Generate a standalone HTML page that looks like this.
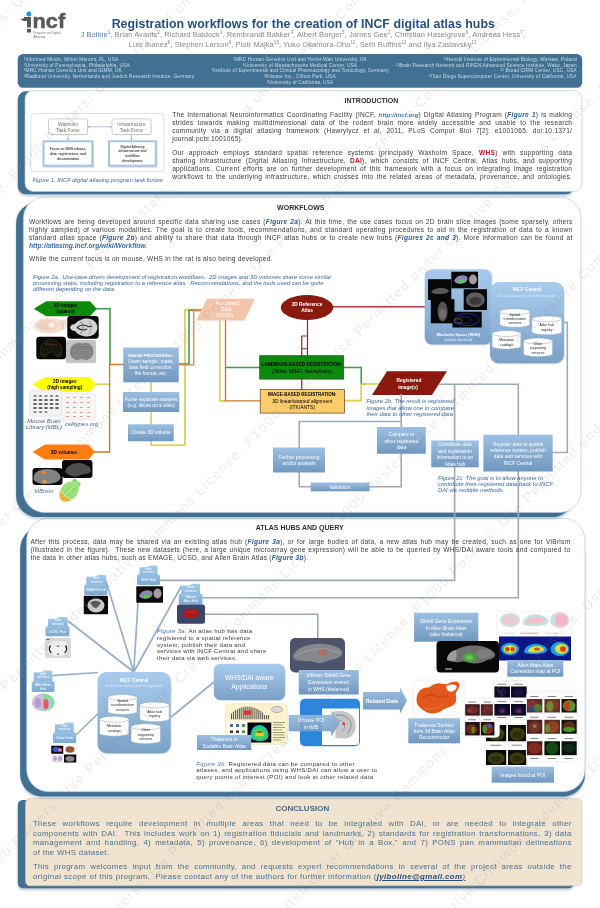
<!DOCTYPE html>
<html lang="en">
<head>
<meta charset="utf-8">
<title>Registration workflows for the creation of INCF digital atlas hubs</title>
<style>
html,body{margin:0;padding:0;background:#fff;}
body{width:600px;height:908px;position:relative;overflow:hidden;font-family:"Liberation Sans",sans-serif;}
#page{position:absolute;left:0;top:0;width:600px;height:908px;will-change:transform;}
#bg{position:absolute;left:0;top:0;width:600px;height:908px;}
.abs{position:absolute;}
.t{position:absolute;white-space:nowrap;}
.title{left:3.3px;width:600px;top:16.8px;text-align:center;font-weight:bold;font-size:12.35px;line-height:15px;color:#24517e;letter-spacing:0.04px;}
.auth{left:2.7px;width:600px;text-align:center;font-size:7.5px;line-height:9px;color:#87898d;letter-spacing:0.07px;}
.auth i{font-style:normal;color:#4b7fae;}
.auth sup{font-size:4.5px;line-height:0;vertical-align:2.6px;}
.aff{font-size:4.8px;line-height:5.62px;color:#d0dce7;white-space:nowrap;letter-spacing:0.15px;}
.aff sup{font-size:3px;line-height:0;vertical-align:1.5px;}
.body{font-size:6.6px;line-height:7.95px;color:#403a3a;letter-spacing:0.26px;}
.ln{display:block;text-align:justify;text-align-last:justify;}
.ln.e{text-align:left;text-align-last:left;}
.body b.k{color:#2b5c91;font-style:italic;}
.body b.u{font-size:6.2px;letter-spacing:0;line-height:0;color:#3f78b8;}
.conc{font-size:7.9px;line-height:9.7px;color:#48708f;letter-spacing:0.3px;}
.conc b.k{color:#2b4f7a;font-style:italic;}
.body b.r{color:#d0121b;}
.h{font-weight:bold;font-size:7px;line-height:8px;color:#352b2b;text-align:center;white-space:nowrap;}
.cap{font-style:italic;font-size:5.85px;line-height:6.1px;color:#3a67a0;}
svg text{font-family:"Liberation Sans",sans-serif;}
</style>
</head>
<body>
<div id="page">
<svg id="bg" width="600" height="908" viewBox="0 0 600 908">
<defs>
<linearGradient id="gb" x1="0" y1="0" x2="0" y2="1"><stop offset="0" stop-color="#9cc0e2"/><stop offset="1" stop-color="#7198bf"/></linearGradient>
<linearGradient id="gp" x1="0" y1="0" x2="0" y2="1"><stop offset="0" stop-color="#b7d2ec"/><stop offset="1" stop-color="#7ea3c8"/></linearGradient>
<linearGradient id="gp2" x1="0" y1="0" x2="0" y2="1"><stop offset="0" stop-color="#a8cced"/><stop offset="1" stop-color="#7ba1c7"/></linearGradient>
<linearGradient id="gh" x1="0" y1="0" x2="0" y2="1"><stop offset="0" stop-color="#93bfe1"/><stop offset="1" stop-color="#7aa9d2"/></linearGradient>
<linearGradient id="gw" x1="0" y1="0" x2="0" y2="1"><stop offset="0" stop-color="#a2c9e6"/><stop offset="1" stop-color="#8ab7da"/></linearGradient>
<filter id="ds" x="-2%" y="-5%" width="104%" height="112%"><feDropShadow dx="0" dy="1.8" stdDeviation="1.1" flood-color="#5f7d9e" flood-opacity="0.42"/></filter>
</defs>
<!-- logo -->
<g fill="#58585a">
<rect x="27" y="17" width="4" height="10.5"/>
<path d="M27 17 L24 17 L24 18.2 L20 19.6 L24 21 L27 21 Z"/>
<rect x="27" y="29" width="4" height="3.5"/>
<text x="32.6" y="27.5" font-size="20" font-weight="bold" textLength="32.6" lengthAdjust="spacingAndGlyphs" stroke="#58585a" stroke-width="0.5">ncf</text>
<text x="33.2" y="33.6" font-size="3.7" textLength="27.5" lengthAdjust="spacingAndGlyphs" fill="#77787a">Program on Digital</text>
<text x="33.2" y="38.4" font-size="3.7" textLength="12" lengthAdjust="spacingAndGlyphs" fill="#77787a">Atlasing</text>
</g>
<circle cx="28.9" cy="14" r="2.5" fill="#1a9be0"/>
<!-- affiliation bar -->
<rect x="17.7" y="54" width="564.5" height="33.8" rx="5.5" fill="#407092"/>
<!-- conclusion panel -->
<rect x="17.800" y="800" width="556" height="88.3" rx="5" fill="#407092" filter="url(#ds)"/>
<rect x="25.500" y="798.5" width="556.500" height="87.3" rx="4.5" fill="#f0e4d0" stroke="#c9c0b0" stroke-width="0.6"/>
<!-- atlas panel -->
<rect x="20.200" y="526.600" width="564.800" height="269.800" rx="22" fill="#407092" filter="url(#ds)"/>
<rect x="26.700" y="518.300" width="558.300" height="273.400" rx="22" fill="#fff" stroke="#b5c9de" stroke-width="0.7"/>
<!-- workflows panel -->
<rect x="16.100" y="202.400" width="557.500" height="314.600" rx="21" fill="#407092" filter="url(#ds)"/>
<rect x="23.400" y="197.200" width="557.600" height="315.200" rx="21" fill="#fff" stroke="#b5c9de" stroke-width="0.7"/>
<!-- intro panel -->
<rect x="17.800" y="91.300" width="556" height="103" rx="8" fill="#407092" filter="url(#ds)"/>
<rect x="25" y="90.700" width="557" height="100.700" rx="8" fill="#fff" stroke="#b5c9de" stroke-width="0.7"/>
<!-- figure 1 -->
<g id="fig1">
<rect x="30.9" y="113.6" width="133" height="58.1" rx="3.5" fill="#fff" stroke="#b9cde4" stroke-width="0.6"/>
<g fill="#fff" stroke="#b9adad" stroke-width="0.6">
<rect x="48.9" y="119.6" width="39" height="15.6" rx="2.2" fill="#e4e4e4" stroke="none"/>
<rect x="112.4" y="119.6" width="39" height="15.6" rx="2.2" fill="#e4e4e4" stroke="none"/>
<rect x="48.5" y="118.9" width="39" height="15.6" rx="2.2"/>
<rect x="112" y="118.9" width="39" height="15.6" rx="2.2"/>
</g>
<g stroke="#5b8cc0" stroke-width="0.5" fill="#5b8cc0">
<line x1="88.5" y1="126.8" x2="111" y2="126.8"/>
<path d="M87.7 126.8l1.6-.9v1.8zM111.8 126.8l-1.6-.9v1.8z" stroke="none"/>
<line x1="68.1" y1="134.7" x2="68.1" y2="139"/>
<line x1="131.4" y1="134.7" x2="131.4" y2="139"/>
<path d="M68.1 140.2l-.9-1.6h1.8zM131.4 140.2l-.9-1.6h1.8z" stroke="none"/>
</g>
<rect x="43.3" y="141.3" width="50.8" height="26.4" fill="#d9d9d9"/>
<rect x="108.8" y="141.3" width="48.8" height="26.4" fill="#d9d9d9"/>
<rect x="43.5" y="141.3" width="48.8" height="24.4" fill="#fff" stroke="#a9c4e3" stroke-width="2"/>
<rect x="109" y="141.3" width="46.8" height="24.4" fill="#fff" stroke="#a9c4e3" stroke-width="2"/>
<g font-size="4.8" fill="#7c6c6c" text-anchor="middle">
<text x="68" y="126">Waxholm</text><text x="68" y="132">Task Force</text>
<text x="131.5" y="126">Infrastructure</text><text x="131.5" y="132">Task Force</text>
</g>
<g font-size="3.3" font-weight="bold" fill="#4a3a3a" text-anchor="middle">
<text x="68" y="149.6">Focus on WHS atlases,</text><text x="68" y="154.6">data&#160; registrations, and</text><text x="68" y="159.6">dissemination</text>
<text x="132.5" y="147.6">Digital Atlasing</text><text x="132.5" y="152.3">infrastructure and</text><text x="132.5" y="157">workflow</text><text x="132.5" y="161.7">development</text>
</g>
</g>
<!-- ===== WORKFLOWS DIAGRAM ===== -->
<g id="wf">
<!-- coloured connectors -->
<g fill="none" stroke-linejoin="miter">
<g stroke="#cfc83f" stroke-width="1.6">
<path d="M185 445.2V309.600H203"/>
<path d="M151.25 381V393M151.25 411V425M151.25 440V445.2H185.8"/>
<path d="M96 384.3H109.5"/>
<path d="M219.800 320V400.9H226"/>
</g>
<g stroke="#e6e070" stroke-width="0.600">
<path d="M185 445.2V309.600H203"/>
<path d="M151.25 381V393M151.25 411V425M151.25 440V445.2H185.8"/>
<path d="M96 384.3H109.5"/>
<path d="M219.800 320V400.9H226"/>
</g>
<g stroke="#46994a" stroke-width="1.6">
<path d="M96 308.75H110V364.5"/>
<path d="M178 364H189V310.200H203"/>
<path d="M225.5 367.5H260"/>
<path d="M343 367.5H361.25V384H366"/>
</g>
<g stroke="#c77b2c" stroke-width="1.35">
<path d="M94 452H109.6V364.5H124"/>
<path d="M178 364.8H193.75V310.700H203" stroke="#d08d4c"/>
<path d="M225.5 320V400.9H261"/>
</g>
<path d="M344 400.6H361.25V384H380" stroke="#cfc83f" stroke-width="1.6"/>
<path d="M344 400.6H361.25V384H380" stroke="#e6e070" stroke-width="0.600"/>
<path d="M307.5 319V356M307.5 336H301.75V390M301.75 348.75H307.5" stroke="#8e2a20" stroke-width="1.2"/>
<path d="M333 306.7H425" stroke="#a63a36" stroke-width="1.5"/>
</g>
<!-- hexagons -->
<path d="M33.75 308.75L46.25 301.25H90L96.75 308.75L90 316.25H46.25Z" fill="#0c8a0c"/>
<path d="M32.5 384.5L45 377H89.5L96.25 384.5L89.5 392H45Z" fill="#ffff00"/>
<path d="M32.5 452L45 444.5H88.5L95 452L88.5 459.5H45Z" fill="#ff7f0e"/>
<g font-size="4.7" font-weight="bold" fill="#000" text-anchor="middle">
<text x="65.5" y="307">2D images</text><text x="65.5" y="313.2">(sparse)</text>
<text x="64.8" y="383.2">2D images</text><text x="64.8" y="389.4">(high sampling)</text>
<text x="64" y="453.5">3D volumes</text>
</g>
<!-- thumbnails: sparse -->
<g>
<path d="M34.500 325c1-5 8-7.500 16-7c5 0 8 1 10 2c3-1 6 0 6.500 2.500c0.500 3-1 5-3 7c-2 2-5 3-8 3c-3 1-7 1.500-11 1c-6-0.500-11-4-10.500-8.500z" fill="#f5e0d4"/>
<path d="M37 325c1-3.500 6-5.500 12-5c4 0 7 1.500 8 4c1 3-2 6-7 6.500c-6 0.500-13-1.500-13-5.500z" fill="#efd0c0"/>
<path d="M49 323c2-1.500 5-1 6 1c0.500 2-1 4-3.500 4c-2 0-3.500-2.500-2.500-5z" fill="#f8ebe3"/>
<path d="M59 321.500c2 2 3 5 2 8.500M62 321c1.500 2 2 5 1 8" stroke="#e2b9a4" stroke-width="0.700" fill="none"/>
<rect x="67.300" y="316" width="31.400" height="22.700" rx="3.200" fill="#070707"/>
<path d="M70 327.500c0.500-2.500 3-3.500 5-3.500c2-3 7-5.500 12-5.500c6 0 10.500 4 10.500 9c0 5-4.500 9-10.500 9c-5 0-10-2.500-12-5.500c-2 0-4.500-1-5-3.500z" fill="#d2d2d2"/>
<path d="M77 327.500c3-2.500 7-3 10-1.500c2 1 3 1 5 0M77 327.500c3 2.500 7 3 10 1.500" stroke="#2a2a2a" stroke-width="1.100" fill="none"/>
<path d="M80 321.500c2 1 3 3 3 6c0 3-1 5-3 6" stroke="#555" stroke-width="0.700" fill="none"/><path d="M89 321c1.500 2 2 4 2 6.500c0 2.500-0.500 4.500-2 6.500" stroke="#777" stroke-width="0.600" fill="none"/>
<rect x="70.500" y="318.300" width="3" height="0.600" fill="#c02020"/>
<rect x="36.300" y="336.700" width="29.700" height="22.600" rx="3.200" fill="#080808"/>
<path d="M40 352c0-8 5-12.500 11-12.500c6 0 11 4.500 11 12.500c0 3-2 5-4 5c-2 0-3-2-4-4c-1-1.500-5-1.500-6 0c-1 2-2 4-4 4c-2 0-4-2-4-5z" fill="#15170e" stroke="#3a4220" stroke-width="0.600"/>
<path d="M45 344.500c2-0.800 4-0.800 6 0c2 0.800 4 0.800 6 0" stroke="#b03828" stroke-width="0.600" fill="none"/>
<path d="M42 353c1 2 2 3 3 3M60 353c-1 2-2 3-3 3" stroke="#7a4020" stroke-width="0.500" fill="none"/>
<rect x="66" y="340" width="30" height="23.300" rx="2.500" fill="#c6c6c6"/>
<path d="M70 352c0-5 3-8.500 8-9c2-0.500 3 0.500 4 0.500c1 0 3-1 5-0.500c4 0.500 6.500 4 6.500 8.500c0 4.500-3 8-7 8.500c-2 0-3-1-4.500-1c-1.500 0-3 1-5 1c-4-0.500-7-3.500-7-8z" fill="#808080"/>
<path d="M72 349c3-2 7-2.500 10-1.500c3-1 6-0.500 9 1.500" stroke="#6a6a6a" stroke-width="0.800" fill="none"/>
<g stroke="#b2b2b2" stroke-width="0.350" opacity="0.700"><path d="M66 343h30M66 345.500h30M66 348h30M66 350.500h30M66 353h30M66 355.500h30M66 358h30M66 360.500h30"/></g>
</g>
<!-- thumbnails: high sampling -->
<g>
<rect x="29.5" y="390" width="31.8" height="26.2" rx="3" fill="#f3f3f3" stroke="#d5d5d5" stroke-width="0.5"/>
<g fill="#5a5a5a">
<ellipse cx="35" cy="396" rx="1.8" ry="0.8"/><ellipse cx="40.5" cy="396" rx="1.8" ry="0.8"/><ellipse cx="46" cy="396" rx="1.8" ry="0.8"/><ellipse cx="51.5" cy="396" rx="1.8" ry="0.8"/><ellipse cx="57" cy="396" rx="1.8" ry="0.8"/>
<ellipse cx="35" cy="400" rx="2" ry="0.9"/><ellipse cx="40.5" cy="400" rx="2" ry="0.9"/><ellipse cx="46" cy="400" rx="2" ry="0.9"/><ellipse cx="51.5" cy="400" rx="2" ry="0.9"/><ellipse cx="57" cy="400" rx="2" ry="0.9"/>
<ellipse cx="35" cy="404" rx="2.1" ry="1"/><ellipse cx="40.5" cy="404" rx="2.1" ry="1"/><ellipse cx="46" cy="404" rx="2.1" ry="1"/><ellipse cx="51.5" cy="404" rx="2.1" ry="1"/><ellipse cx="57" cy="404" rx="2.1" ry="1"/>
<ellipse cx="35" cy="408" rx="2.1" ry="1"/><ellipse cx="40.5" cy="408" rx="2.1" ry="1"/><ellipse cx="46" cy="408" rx="2.1" ry="1"/><ellipse cx="51.5" cy="408" rx="2.1" ry="1"/><ellipse cx="57" cy="408" rx="2" ry="0.9"/>
<ellipse cx="35" cy="412" rx="1.8" ry="0.8"/><ellipse cx="40.5" cy="412" rx="1.8" ry="0.8"/><ellipse cx="46" cy="412" rx="1.6" ry="0.7"/>
</g>
<rect x="62" y="393" width="33.8" height="27" rx="3" fill="#f7f4f4" stroke="#dcdcdc" stroke-width="0.5"/>
<g fill="#e89a9a">
<rect x="66" y="397" width="3" height="1"/><rect x="73" y="397" width="3" height="1"/><rect x="80" y="397" width="3" height="1"/><rect x="87" y="397" width="3" height="1"/>
<rect x="66" y="402" width="3" height="1"/><rect x="73" y="402" width="3" height="1"/><rect x="80" y="402" width="3" height="1"/><rect x="87" y="402" width="3" height="1"/>
<rect x="66" y="407" width="3" height="1"/><rect x="73" y="407" width="3" height="1"/><rect x="80" y="407" width="3" height="1"/><rect x="87" y="407" width="3" height="1"/>
<rect x="66" y="412" width="3" height="1"/><rect x="73" y="412" width="3" height="1"/><rect x="80" y="412" width="3" height="1"/><rect x="87" y="412" width="3" height="1"/>
<rect x="66" y="416" width="3" height="1"/><rect x="73" y="416" width="3" height="1"/><rect x="80" y="416" width="3" height="1"/><rect x="87" y="416" width="3" height="1"/>
</g>
</g>
<g font-size="5.95" font-style="italic" fill="#47698f">
<text x="44" y="422.6" text-anchor="middle">Mouse Brain</text><text x="44" y="428.9" text-anchor="middle">Library (MBL)</text>
<text x="65" y="425.7">celltypes.org</text>
<text x="34.5" y="493" font-size="5.5">ViBrism</text>
</g>
<!-- thumbnails: 3D volumes -->
<g>
<rect x="62" y="460" width="30.5" height="18" rx="3" fill="#0a0a0a"/>
<path d="M65 472c1-6 8-9.500 15-9c6 1 11 4 11 7.500c0 3-5 3.500-9 4c-3 1-5 2.500-8 2c-3-1-5-1-9-4.500z" fill="#4e4e4e"/>
<rect x="32.5" y="468" width="30" height="17" rx="3" fill="#0a0a0a"/>
<path d="M33.500 478c0-6 6-9 14-9c7 0 13 4 13 8.500c0 4-7 6.500-14 6.500c-7 0-13-2-13-6z" fill="#838383"/>
<ellipse cx="43.5" cy="472.3" rx="2" ry="1.5" fill="#ff8a1a"/><ellipse cx="44.5" cy="481.5" rx="2.2" ry="1.3" fill="#ffa52a"/>
<g transform="translate(69.3 491.2) rotate(40)">
<ellipse cx="-2.200" cy="-10.500" rx="2.600" ry="3" fill="#7fd65e" stroke="#d8e8d0" stroke-width="0.500"/><ellipse cx="2.200" cy="-10.500" rx="2.600" ry="3" fill="#7fd65e" stroke="#d8e8d0" stroke-width="0.500"/>
<ellipse cx="0" cy="0" rx="8.300" ry="10.500" fill="#93e070" stroke="#cfe3c6" stroke-width="0.700"/>
<path d="M-7.600 4.500c1.500 5 4.500 7.500 7.600 7.500c3.100 0 6.100-2.500 7.600-7.500c-4.500 2.200-10.700 2.200-15.200 0z" fill="#e2b634" stroke="#f0e6b8" stroke-width="0.500"/>
<path d="M0-10v14.500M-7.600 4.500c4.500 2.200 10.700 2.200 15.200 0" stroke="#e3f2da" stroke-width="0.600" fill="none"/>
<path d="M-4-6c-2 3-2 7 0 10M4-6c2 3 2 7 0 10" stroke="#c2e8b0" stroke-width="0.500" fill="none"/>
</g>
</g>
<!-- process boxes -->
<g fill="url(#gb)">
<rect x="123.25" y="347.5" width="55.5" height="34.8"/>
<rect x="123" y="392" width="56.25" height="20"/>
<rect x="128" y="424.25" width="45.75" height="17"/>
<rect x="273" y="447.5" width="52" height="25"/>
<rect x="310.75" y="482.5" width="58.75" height="8.8"/>
</g>
<!-- processed data -->
<path d="M207 298.75H255L244.5 320.5H196.25Z" fill="#f3c5aa"/>
<!-- 3D reference atlas -->
<ellipse cx="307" cy="307.5" rx="26.2" ry="12.4" fill="#8b1a0e"/>
<!-- registration boxes -->
<rect x="259.7" y="355.7" width="84" height="23.4" fill="#0c8a0c" stroke="#1f4a1f" stroke-width="0.7"/>
<rect x="260.2" y="389.5" width="84.2" height="23.6" fill="#fbcb6c" stroke="#5a4020" stroke-width="0.7"/>
<!-- registered images -->
<path d="M387 371.25H447L432 395H372Z" fill="#8b1a0e"/>
<g font-size="4.9" fill="#fff" text-anchor="middle">
<text x="151" y="357" font-weight="bold" font-size="4.3">IMAGE PROCESSING:</text><text x="151" y="363.1">Down sample, mask,</text><text x="151" y="369.2">bias field correction,</text><text x="151" y="375.3">file format, etc.</text>
<text x="151.2" y="400.7">Parse separate samples</text><text x="151.2" y="407">(e.g. slices on a slide)</text>
<text x="151" y="434.4">Create 3D volume</text>
<text x="299" y="459">Further processing</text><text x="299" y="465.3">and/or analysis</text>
<text x="340" y="488.5">Validation</text>
<text x="227.5" y="304.5">Processed</text><text x="226" y="310.9">Data</text><text x="224.500" y="317.2">(2D/3D)</text>
<g font-weight="bold" font-size="4.8">
<text x="307" y="305.8">3D Reference</text><text x="307" y="312.4">Atlas</text>
<text x="409" y="382.2">Registered</text><text x="408" y="388.6">image(s)</text>
</g>
</g>
<g font-size="4.95" fill="#000" text-anchor="middle">
<text x="301.7" y="366.4" font-weight="bold" font-size="4.55">LANDMARK-BASED REGISTRATION:</text><text x="301.7" y="372.8">(Jibber, MBAT, NeuroMaps)</text>
<text x="302.3" y="396.2" font-weight="bold" font-size="4.5">IMAGE-BASED REGISTRATION:</text><text x="302.3" y="402.7">3D linear/warped alignment</text><text x="302.3" y="409.2">(ITK/ANTS)</text>
</g>
</g>
<!-- ===== WORKFLOWS right side ===== -->
<g id="wf2">
<!-- Waxholm space box -->
<rect x="425.5" y="270.2" width="67" height="75.300" rx="7" fill="#c8d4e0" opacity="0.7"/>
<rect x="424.7" y="269.2" width="67" height="75.300" rx="7" fill="url(#gp2)"/>
<g fill="#070707">
<rect x="451.3" y="271.7" width="26.7" height="16.6"/>
<rect x="428" y="279.2" width="23.3" height="20.8"/>
<rect x="463.7" y="289.2" width="23.3" height="20.8"/>
<rect x="430.8" y="299.2" width="23.7" height="24.1"/>
<rect x="452.5" y="311.7" width="29.2" height="15.8"/>
</g>
<path d="M431 292c2-3 6-4 10-4c4 0 7 1 8 3c-1 2-5 3-9 3c-4 0-7 0-9-2z" fill="#5a5a5a"/>
<path d="M454 281c2-5 8-7 12-5c2 1 2 4 0 6c-3 2-9 3-12-1z" fill="#8c86b4"/><path d="M458 282c2-3 6-3 7-1c0 2-5 4-7 1z" fill="#58c858"/><ellipse cx="473" cy="279.500" rx="4" ry="5" fill="#a59aa0"/>
<ellipse cx="475.3" cy="299.8" rx="9.500" ry="7.500" fill="#5c5c5c"/><ellipse cx="475.3" cy="301" rx="6" ry="4" fill="#3a3a3a"/>
<ellipse cx="442.600" cy="311.500" rx="5" ry="10" fill="#555"/><ellipse cx="442.600" cy="314" rx="3.500" ry="5" fill="#6e6e6e"/>
<ellipse cx="467" cy="319.600" rx="12" ry="6" fill="none" stroke="#2a2ad0" stroke-width="0.8"/><ellipse cx="464" cy="320" rx="7" ry="3.500" fill="none" stroke="#3a3ae0" stroke-width="0.5"/><ellipse cx="458" cy="321" rx="4" ry="2.500" fill="none" stroke="#9a9a20" stroke-width="0.5"/>
<text x="458.3" y="336.200" font-size="4" font-weight="bold" fill="#fff" text-anchor="middle">Waxholm Space (WHS)</text>
<text x="458.3" y="340.9" font-size="3.6" fill="#e3edf7" text-anchor="middle">(spatial standard)</text>
<!-- INCF Central box -->
<rect x="490.700" y="283.100" width="74" height="81.200" rx="9" fill="#c8d4e0" opacity="0.7"/>
<rect x="489.900" y="282.100" width="74.100" height="81.200" rx="9" fill="url(#gp2)"/>
<text x="527" y="290.900" font-size="4.650" font-weight="bold" fill="#fff" text-anchor="middle">INCF Central</text>
<text x="527" y="296.500" font-size="4.150" fill="#dfeaf6" text-anchor="middle">Data Discovery and Integration</text>
<g fill="#fff" stroke="#8ea3b9" stroke-width="0.5">
<path d="M499.800 311.700v12.600a15 3 0 0 0 30 0v-12.600z"/><ellipse cx="514.800" cy="311.700" rx="15" ry="3"/>
<path d="M531.800 318.900v12.900a15 3 0 0 0 30 0v-12.900z"/><ellipse cx="546.800" cy="318.900" rx="15" ry="3"/>
<path d="M492.100 333.500v12.700a14.400 3 0 0 0 28.800 0v-12.700z"/><ellipse cx="506.500" cy="333.500" rx="14.400" ry="3"/>
<path d="M523.400 341v12.700a14.600 3 0 0 0 29.200 0v-12.700z"/><ellipse cx="538" cy="341" rx="14.600" ry="3"/>
</g>
<g font-size="3.5" fill="#1f1f1f" text-anchor="middle">
<text x="514.800" y="315.600">Spatial</text><text x="514.800" y="320">transformation</text><text x="514.800" y="324.400">services</text>
<text x="546.800" y="326.300">Atlas hub</text><text x="546.800" y="330.900">registry</text>
<text x="506.500" y="340.900">Metadata</text><text x="506.500" y="345.500">catalogs</text>
<text x="538" y="344.700">Other</text><text x="538" y="349.200">supporting</text><text x="538" y="353.700">services</text>
</g>
<!-- grey-blue connectors -->
<g fill="none" stroke="#9aa9bc" stroke-width="1.6">
<path d="M439 384.250H518.300V597.800H202"/>
<path d="M454.600 384.250V580.400H160"/>
<path d="M401.250 394V486.700H369M401.250 421.500H299.250V448M299.250 472V486.700H311"/>
<path d="M564 322.500H567.300V452.500H552"/>
<path d="M205 614.200H317.800V638"/>
</g>
<g fill="url(#gb)">
<rect x="377" y="427" width="48.750" height="26.750"/>
<rect x="431.200" y="440.500" width="47.500" height="26.800"/>
<rect x="483.400" y="434.700" width="69.300" height="36.800"/>
</g>
<g font-size="4.9" fill="#fff" text-anchor="middle">
<text x="401.400" y="436.100">Compare to</text><text x="401.400" y="442.600">other registered</text><text x="401.400" y="449.100">data</text>
<text x="455" y="446">Contribute data</text><text x="455" y="452.500">and registration</text><text x="455" y="459">information to an</text><text x="455" y="465.500">Atlas hub</text>
<text x="518" y="445.500">Register data to spatial</text><text x="518" y="452">reference system, publish</text><text x="518" y="458.400">data and services with</text><text x="518" y="464.800">INCF Central</text>
</g>
</g>
<!-- ===== ATLAS HUBS DIAGRAM ===== -->
<g id="atlas">
<g fill="none" stroke="#98afc9" stroke-width="1.7">
<path d="M133.750 672L106 581"/>
<path d="M133.750 672L138 602"/>
<path d="M133.750 672L68 621"/>
<path d="M133.750 672L181.500 586"/>
<path d="M98 672.500L52 675.700"/>
<path d="M98 713.500L76 735"/>
<path d="M170.500 717.500L214 682"/>
</g>
<rect x="98.300" y="673" width="73.250" height="81.250" rx="9" fill="#c8d4e0" opacity="0.7"/>
<rect x="97.500" y="672" width="73.250" height="81.250" rx="9" fill="url(#gp2)"/>
<text x="134" y="681.600" font-size="4.650" font-weight="bold" fill="#fff" text-anchor="middle">INCF Central</text>
<text x="134" y="687.100" font-size="4.150" fill="#dfeaf6" text-anchor="middle">Data Discovery and Integration</text>
<g fill="#fff" stroke="#8ea3b9" stroke-width="0.5">
<path d="M108 697.500v14a14.500 3 0 0 0 29 0v-14z"/><ellipse cx="122.500" cy="697.500" rx="14.500" ry="3"/>
<path d="M139.750 705v13.750a14.750 3 0 0 0 29.500 0v-13.750z"/><ellipse cx="154.500" cy="705" rx="14.750" ry="3"/>
<path d="M99.650 719.250v14a14.600 3 0 0 0 29.200 0v-14z"/><ellipse cx="114.250" cy="719.250" rx="14.600" ry="3"/>
<path d="M131 726.750v14a14.750 3 0 0 0 29.500 0v-14z"/><ellipse cx="145.750" cy="726.750" rx="14.750" ry="3"/>
</g>
<g font-size="3.5" fill="#1f1f1f" text-anchor="middle">
<text x="122.500" y="702">Spatial</text><text x="122.500" y="706.400">transformation</text><text x="122.500" y="710.800">services</text>
<text x="154.500" y="712.700">Atlas hub</text><text x="154.500" y="717.300">registry</text>
<text x="114.250" y="727.200">Metadata</text><text x="114.250" y="731.800">catalogs</text>
<text x="145.750" y="731">Other</text><text x="145.750" y="735.500">supporting</text><text x="145.750" y="740">services</text>
</g>
<path d="M87.45 576.70H94.65q1.2 0 1.8-0.85t1.8-0.85H105.05q1.2 0 1.2 1.2V585.60q-5.00-1.6-10.00 0t-10.00 0V577.90q0-1.2 1.2-1.2z" fill="url(#gw)"/>
<rect x="84.25" y="584.5" width="23.25" height="10.5" rx="1.5" fill="url(#gh)"/>
<g font-size="3.3" fill="#fff" text-anchor="middle"><text x="96.25" y="579.30">web</text><text x="96.25" y="582.80">services</text></g>
<text x="95.88" y="591.25" font-size="3.4" fill="#fff" text-anchor="middle">EMAGE Hub</text>
<path d="M140.70 567.20H147.06q1.2 0 1.8-0.85t1.8-0.85H156.30q1.2 0 1.2 1.2V575.60q-4.50-1.6-9.00 0t-9.00 0V568.40q0-1.2 1.2-1.2z" fill="url(#gw)"/>
<rect x="137" y="574.5" width="23" height="10.5" rx="1.5" fill="url(#gh)"/>
<g font-size="3.3" fill="#fff" text-anchor="middle"><text x="148.50" y="569.80">web</text><text x="148.50" y="573.30">services</text></g>
<text x="148.50" y="581.25" font-size="3.4" fill="#fff" text-anchor="middle">WHS Hub</text>
<path d="M182.45 585.45H189.12q1.2 0 1.8-0.85t1.8-0.85H198.80q1.2 0 1.2 1.2V594.85q-4.69-1.6-9.38 0t-9.38 0V586.65q0-1.2 1.2-1.2z" fill="url(#gw)"/>
<rect x="178.75" y="593.75" width="23.75" height="10.75" rx="1.5" fill="url(#gh)"/>
<g font-size="3.3" fill="#fff" text-anchor="middle"><text x="190.62" y="588.05">web</text><text x="190.62" y="591.55">services</text></g>
<g font-size="3.3" fill="#fff" text-anchor="middle"><text x="190.62" y="598.05">ViBrism</text><text x="190.62" y="602.05">Atlas Hub</text></g>
<path d="M49.20 618.70H56.19q1.2 0 1.8-0.85t1.8-0.85H66.30q1.2 0 1.2 1.2V627.35q-4.88-1.6-9.75 0t-9.75 0V619.90q0-1.2 1.2-1.2z" fill="url(#gw)"/>
<rect x="45.5" y="626.25" width="24" height="10" rx="1.5" fill="url(#gh)"/>
<g font-size="3.3" fill="#fff" text-anchor="middle"><text x="57.75" y="621.30">web</text><text x="57.75" y="624.80">services</text></g>
<text x="57.50" y="632.75" font-size="3.4" fill="#fff" text-anchor="middle">UCSD Hub</text>
<path d="M34.95 672.20H41.52q1.2 0 1.8-0.85t1.8-0.85H51.05q1.2 0 1.2 1.2V682.10q-4.62-1.6-9.25 0t-9.25 0V673.40q0-1.2 1.2-1.2z" fill="url(#gw)"/>
<rect x="31.75" y="681.25" width="22.75" height="10.75" rx="1.5" fill="url(#gh)"/>
<g font-size="3.3" fill="#fff" text-anchor="middle"><text x="43.00" y="674.80">web</text><text x="43.00" y="678.30">services</text></g>
<g font-size="3.3" fill="#fff" text-anchor="middle"><text x="43.12" y="685.55">Allen Brain</text><text x="43.12" y="689.55">Hub</text></g>
<path d="M56.20 724.20H62.88q1.2 0 1.8-0.85t1.8-0.85H72.55q1.2 0 1.2 1.2V733.60q-4.69-1.6-9.38 0t-9.38 0V725.40q0-1.2 1.2-1.2z" fill="url(#gw)"/>
<rect x="53" y="732.5" width="23.25" height="10.5" rx="1.5" fill="url(#gh)"/>
<g font-size="3.3" fill="#fff" text-anchor="middle"><text x="64.38" y="726.80">web</text><text x="64.38" y="730.30">services</text></g>
<text x="64.62" y="739.25" font-size="3.4" fill="#fff" text-anchor="middle">Other Hubs</text>
<rect x="83.750" y="595.750" width="24.250" height="18.500" rx="1" fill="#0a0a0a"/>
<ellipse cx="96" cy="605.500" rx="8.500" ry="7" fill="#c9c9c9"/><path d="M90 603c3-3 8-3 11 0c-2 2-3 5-5 5c-3 0-4-3-6-5z" fill="#5a5a5a"/>
<rect x="136.250" y="586.250" width="26.750" height="16.500" rx="1" fill="#0a0a0a"/>
<path d="M139 596c2-5 8-7 12-5c2 1 2 4 0 6c-3 2-9 3-12-1z" fill="#8c86b4"/><path d="M143 597c2-3 6-3 7-1c0 2-5 4-7 1z" fill="#58c858"/><ellipse cx="157.500" cy="593.500" rx="4" ry="5" fill="#a59aa0"/>
<rect x="177" y="604.500" width="28" height="19.250" rx="2.500" fill="#3b4568"/>
<path d="M183 614c1-4 6-6 10-5c3 0 6 2 6 4c0 3-4 5-8 5c-4 0-8-1-8-4z" fill="#b01818"/><path d="M186 613c2-2 6-2 9 0" stroke="#e04040" stroke-width="0.600" fill="none"/>
<rect x="45" y="638" width="26" height="20" rx="1" fill="#dadada"/>
<path d="M47.500 649c0-5 3.500-8.500 7.500-8.500c1.500 0 2.300 0.800 3 0.800c0.700 0 1.500-0.800 3-0.800c4 0 7.500 3.500 7.500 8.500c0 4.500-4 7.500-10.500 7.500c-6.500 0-10.500-3-10.500-7.500z" fill="#f1f1f1" stroke="#cfcfcf" stroke-width="0.400"/>
<path d="M50.500 645.500c-1.500 2-1.500 5 0.800 7.500" stroke="#1a1a1a" stroke-width="1.300" fill="none"/><path d="M65.500 645.500c1.500 2 1.500 5-0.800 7.500" stroke="#1a1a1a" stroke-width="1.300" fill="none"/>
<ellipse cx="58" cy="646.300" rx="0.900" ry="0.700" fill="#222"/><ellipse cx="58" cy="654.300" rx="0.800" ry="0.800" fill="#222"/>
<path d="M53 647c1.500-2 3.500-2.500 5-1c1.500-1.500 3.500-1 5 1" stroke="#c4c4c4" stroke-width="0.500" fill="none"/>
<rect x="46.500" y="639.200" width="3" height="0.700" fill="#333"/>
<path d="M32 703c0-6 5-9.500 11-9.500v17.500c-6 0-11-3-11-8z" fill="#cdbcdd"/><path d="M43 693.500c6 0 11.500 3.500 11.500 9.500c0 5-5.500 8-11.500 8z" fill="#7fe08c"/><ellipse cx="49.500" cy="703" rx="2" ry="5.500" fill="#a9c8ee"/><ellipse cx="46" cy="704" rx="2.500" ry="5" fill="#f05656"/><ellipse cx="38" cy="703" rx="3" ry="5" fill="#b39ccc"/>
<rect x="51.250" y="745.750" width="12" height="8" fill="#0a0a0a"/><ellipse cx="56" cy="749.500" rx="3.500" ry="2.500" fill="#3a5ad0"/><ellipse cx="60" cy="750" rx="2" ry="2" fill="#e070a0"/>
<ellipse cx="70" cy="749.500" rx="4.500" ry="3.300" fill="#a0522d"/>
<rect x="51.250" y="754.500" width="12" height="8" fill="#e9e4ee"/><ellipse cx="55" cy="758.500" rx="2" ry="2.500" fill="#b79fd0"/><ellipse cx="60" cy="758.500" rx="2" ry="2.500" fill="#b79fd0"/>
<rect x="64" y="754.500" width="12.250" height="8" fill="#0a0a0a"/><ellipse cx="70" cy="758.800" rx="4.500" ry="2.800" fill="#8a8a8a"/>
<rect x="214.500" y="664.750" width="71.250" height="36.250" rx="6.500" fill="#c8d4e0" opacity="0.7"/>
<rect x="213.750" y="663.750" width="71.250" height="36.250" rx="6.500" fill="url(#gp2)"/>
<g font-size="6.700" fill="#fff" text-anchor="middle"><text x="249.400" y="680">WHS/DAI aware</text><text x="249.400" y="689.300">Applications</text></g>
<rect x="225.500" y="703.750" width="62" height="40.750" rx="4" fill="#faf3cd" stroke="#e6e0c4" stroke-width="0.500"/>
<g stroke="#4b4242" stroke-width="0.95"><path d="M231.5 713.5V719.3M233.4 711.7V719.3M235.4 710.3V719.3M237.3 709.2V719.3M239.3 708.3V719.3M241.2 707.6V719.3M243.2 707.1V719.3M245.2 706.7V719.3M247.1 706.6V719.3M249.1 706.7V719.3M251.0 706.9V719.3M252.9 707.4V719.3M254.9 708.0V719.3M256.9 708.8V719.3M258.8 709.9V719.3M260.8 711.1V719.3M262.7 712.7V719.3M264.6 715.1V719.3M266.6 715.1V719.3M268.6 715.1V719.3"/></g>
<rect x="243.800" y="710.500" width="7.500" height="4.200" fill="#e03030"/>
<ellipse cx="277" cy="709.500" rx="5.500" ry="3" fill="#ddd" stroke="#777" stroke-width="0.500"/>
<rect x="228" y="721" width="19" height="21" fill="#fdfdfd"/>
<g fill="#4a6a9a"><rect x="230" y="724" width="3" height="3"/><rect x="236" y="724" width="3" height="3"/><rect x="242" y="724" width="3" height="3" fill="#3aa03a"/><rect x="230" y="730.500" width="3" height="2.500" fill="#333"/><rect x="236" y="730.500" width="3" height="2.500" fill="#333"/><rect x="242" y="730.500" width="3" height="2.500" fill="#3aa03a"/></g>
<rect x="247.500" y="722.500" width="23.750" height="20" fill="#050505"/>
<path d="M250.500 736c0-7 4-11 9-11c5 0 9 4 9 11c0 3-4 5-9 5c-5 0-9-2-9-5z" fill="#20c0b0"/><path d="M253 735c0-4 3-7 6.500-7c3.500 0 6.500 3 6.500 7c0 2-3 4-6.500 4c-3.500 0-6.500-2-6.500-4z" fill="#50d040"/><rect x="255.500" y="733" width="8" height="3" fill="#e0d030"/><rect x="257.500" y="731" width="4" height="2" fill="#d04030"/>
<g fill="#8a8468"><rect x="273" y="722" width="12" height="0.800"/><rect x="273" y="724.500" width="10" height="0.800"/><rect x="273" y="727" width="12" height="0.800"/><rect x="273" y="729.500" width="9" height="0.800"/><rect x="273" y="732" width="12" height="0.800"/><rect x="273" y="734.500" width="11" height="0.800"/><rect x="273" y="737" width="12" height="0.800"/><rect x="273" y="739.500" width="8" height="0.800"/></g>
<rect x="197" y="735" width="54.250" height="15" fill="url(#gb)"/>
<g font-size="4.900" fill="#fff" text-anchor="middle"><text x="224.100" y="741.200">Thalamus in</text><text x="224.100" y="747.500">Scalable Brain Atlas</text></g>
<rect x="290" y="638" width="55" height="34.500" rx="5" fill="#4d536b"/>
<path d="M293 657c1-7 10-12 22-13c12-1 24 2 27 7c2 4-3 8-12 9c-4 1-6 3-10 3c-5 0-7-2-13-2c-8 0-14-1-14-4z" fill="#85878c"/>
<path d="M296 656c6-5 18-8 30-7c6 1 11 3 14 5" stroke="#a5a7ab" stroke-width="0.800" fill="none"/>
<ellipse cx="323" cy="652.500" rx="4.500" ry="3.500" fill="#b06a5a" opacity="0.850"/>
<rect x="298.750" y="670" width="60" height="24.500" fill="url(#gb)"/>
<g font-size="4.900" fill="#fff" text-anchor="middle"><text x="328.700" y="677.300">ViBrism Slitrk6 Gene</text><text x="328.700" y="684">Expression viewed</text><text x="328.700" y="690.600">in WHS (thalamus)</text></g>
<rect x="300" y="698.750" width="60" height="47.500" rx="5" fill="#2b86dc"/>
<path d="M322 708.500H359V741.500q0 3.500-3.500 3.500H322Z" fill="#fff"/>
<path d="M333 712c8-3 18 0 21.500 7c2.500 6 1 14-3.500 17.500c-4 2.500-10 2.500-16 1c1-5 1-9-1-13c-1.500-4-2-8-1-12.500z" fill="#c6c6c6"/>
<path d="M336 715.500c6-1.500 12 1 14.500 6c1.500 4 0 9-3.500 12" stroke="#7a7a7a" stroke-width="0.800" fill="none"/><path d="M338 720c3 0 6 2 6.500 5c0.500 2-0.500 5-2.500 6.500" stroke="#8a8a8a" stroke-width="0.700" fill="none"/>
<circle cx="343.750" cy="723.750" r="1.300" fill="#e02020"/>
<path d="M288.750 715H331.250V710L340 723.100L331.250 736.250V731.250H288.750Z" fill="url(#gb)" opacity="0.930"/>
<g font-size="4.900" fill="#fff" text-anchor="middle"><text x="311" y="722.300">Choose POI</text><text x="311" y="728.600">in WIB</text></g>
<path d="M363 692H400V687.500L407 700.600L400 713.750V709.500H363Z" fill="url(#gb)"/>
<text x="381.800" y="702.800" font-size="5.300" font-weight="bold" fill="#fff" text-anchor="middle">Related Data</text>
<rect x="414" y="612.700" width="64.300" height="29" fill="url(#gb)"/>
<g font-size="4.900" fill="#fff" text-anchor="middle"><text x="446" y="623.200">Slitrk6 Gene Expression</text><text x="446" y="629.600">In Allen Brain Atlas</text><text x="446" y="636">(also thalamus)</text></g>
<path d="M496.500 636.700V616.500q0-5 5-5H566.500q5 0 5 5V636.700Z" fill="#fff" stroke="#e3e3e3" stroke-width="0.400"/>
<ellipse cx="510" cy="620" rx="10" ry="7" fill="#c4e2de"/><ellipse cx="510" cy="620.500" rx="7.500" ry="5" fill="#f3c6ce"/><ellipse cx="510" cy="619" rx="3" ry="2" fill="#c9d4ee"/>
<path d="M522.500 623c1-6 9-9.500 16-8.500c5 1 10 3.500 10 7c0 3-6 4.500-13 4.500c-6 0-13 0-13-3z" fill="#c4e2de"/><path d="M526 622c2-4 8-5.500 13-5c4 1 6 2.500 6 4c0 2-5 3-10 3c-5 0-9 0-9-2z" fill="#f3c0ca"/>
<ellipse cx="559.600" cy="620" rx="9.500" ry="8" fill="#e6cfe6"/><ellipse cx="561" cy="620" rx="6.500" ry="5.500" fill="#f3b4c6"/><ellipse cx="553" cy="620" rx="2.500" ry="5" fill="#c4e2de"/>
<rect x="520" y="632.800" width="18" height="0.700" fill="#e07070"/><rect x="505" y="632.800" width="10" height="0.600" fill="#bbb"/><rect x="545" y="632.800" width="14" height="0.600" fill="#bbb"/>
<rect x="499" y="636.500" width="72" height="24" fill="#0b1785"/>
<ellipse cx="510" cy="649" rx="9" ry="6.200" fill="#2498e0"/><ellipse cx="510" cy="649.300" rx="6.500" ry="4.200" fill="#d8e040"/><ellipse cx="507.300" cy="649.300" rx="2.200" ry="2.400" fill="#e04020"/><ellipse cx="512.700" cy="649.300" rx="2.200" ry="2.400" fill="#e04020"/>
<path d="M524 651.500c1-5.500 8-8.500 14.500-7.500c4.500 1 8.500 3 8.500 6c0 3-5.500 4-12 4c-5.500 0-11 0-11-2.500z" fill="#2498e0"/><path d="M528 650.500c1.500-3.500 6-5 10.500-4.500c3 0.500 5.500 2 5.500 3.500c0 2-4 3-8.500 3c-4 0-7.500 0-7.500-2z" fill="#d8e040"/><ellipse cx="537" cy="649" rx="3" ry="1.600" fill="#e05020"/>
<ellipse cx="560" cy="649" rx="9.500" ry="7.200" fill="#2498e0"/><ellipse cx="561.500" cy="649" rx="6.500" ry="5" fill="#d8e040"/><ellipse cx="563" cy="649" rx="3" ry="2.800" fill="#e04020"/>
<rect x="436.500" y="641" width="62.500" height="31.600" rx="4" fill="#080808"/>
<path d="M447 660c0-5 4-9 9-10c4-3 12-5 20-4.500c9 0.500 17 4 19 8.500c1 3-3 5.500-8 6c-3 2-7 3.500-12 3.500c-5 0-7-2-12-2c-5 1-11 1-14-1z" fill="#6e6e6e"/>
<path d="M447 660c0-5 4-9 9-10c1 3 1 8-1 11c-3 0-6 0-8-1z" fill="#9c9c9c"/>
<ellipse cx="484" cy="654" rx="8" ry="5" fill="#7c7c7c"/>
<ellipse cx="469.600" cy="657.500" rx="7" ry="5" fill="#4aa83a" opacity="0.800"/><ellipse cx="469.600" cy="657.500" rx="3.500" ry="2.500" fill="#6ad050" opacity="0.800"/>
<rect x="445" y="668.500" width="7" height="1" fill="#ddd"/>
<rect x="507.300" y="660" width="56" height="16.700" fill="url(#gb)"/>
<g font-size="4.900" fill="#fff" text-anchor="middle"><text x="535.300" y="666.600">Allen Brain Atlas</text><text x="535.300" y="673.200">Correlation map at POI</text></g>
<rect x="413.300" y="680" width="51.700" height="38.300" rx="5" fill="#fff" stroke="#e0e0e0" stroke-width="0.500"/>
<path d="M416.500 700c0-8 5-12.500 11-12.500c3 0 4-2.500 7.500-3.500c5.500-2 8.500 1 12.500 0c4-2 9.500-4 11.500-0.500c1.500 3-1.500 6-3 9c-1 3 1.500 5.500-0.500 10c-2 4.500-9 4.500-13.500 8c-4.500 3-11 4.500-16.500 1c-5.500-3-9-6.500-9-11.500z" fill="#e2571c"/>
<path d="M447 685.500c3-1.500 8-1.500 9.500 0.500c1 2-1.500 4.500-4.500 5.500c-2.500 0.500-4-0.500-5-2c-1-1.500-1-3 0-4z" fill="#fff"/>
<path d="M422 698c4-3 10-4 14-2c4 2 9 1 12-1.500" stroke="#b83d10" stroke-width="0.900" fill="none"/><path d="M424 708c5 2 13 1 19-3.500" stroke="#f07a3a" stroke-width="0.900" fill="none"/><path d="M430 690c2 2 3 4 2.500 7" stroke="#c8481a" stroke-width="0.800" fill="none"/>
<rect x="408.300" y="718.300" width="51.700" height="25" fill="url(#gb)"/>
<g font-size="4.900" fill="#fff" text-anchor="middle"><text x="434.200" y="726.600">Thalamus Surface</text><text x="434.200" y="733">from 3d Brain Atlas</text><text x="434.200" y="739.400">Reconstructor</text></g>
</g>
<!-- image grids -->
<g id="grids">
<rect x="485" y="724" width="42.700" height="42.700" rx="4" fill="#fcfcfc" stroke="#d8d8d8" stroke-width="0.400"/>
<rect x="486" y="725" width="20.25" height="16.25" fill="#0d0d08"/><ellipse cx="496.12" cy="733.94" rx="8.50" ry="6.50" fill="#3c3c12" opacity="1"/><ellipse cx="496.12" cy="734.75" rx="5.06" ry="3.25" fill="#2a2a0c" opacity="1"/>
<rect x="486" y="750" width="20.25" height="15.00" fill="#0d0d08"/><ellipse cx="496.12" cy="758.25" rx="8.50" ry="6.00" fill="#3c3c12" opacity="1"/><ellipse cx="496.12" cy="759.00" rx="5.06" ry="3.00" fill="#2a2a0c" opacity="1"/>
<rect x="490.05" y="744.80" width="11.14" height="0.8" fill="#6b6b6b"/>
<rect x="508" y="725" width="18.25" height="16.25" fill="#0d0d08"/><ellipse cx="517.12" cy="733.94" rx="7.67" ry="6.50" fill="#3c3c12" opacity="1"/><ellipse cx="517.12" cy="734.75" rx="4.56" ry="3.25" fill="#2a2a0c" opacity="1"/>
<rect x="508" y="750" width="18.25" height="15.00" fill="#0d0d08"/><ellipse cx="517.12" cy="758.25" rx="7.67" ry="6.00" fill="#3c3c12" opacity="1"/><ellipse cx="517.12" cy="759.00" rx="4.56" ry="3.00" fill="#2a2a0c" opacity="1"/>
<rect x="511.65" y="744.80" width="10.04" height="0.8" fill="#6b6b6b"/>
<rect x="464.600" y="698" width="35" height="39.500" rx="4" fill="#fcfcfc" stroke="#d8d8d8" stroke-width="0.400"/>
<rect x="465.2" y="704.2" width="14.60" height="11.40" fill="#3a1a1c"/><ellipse cx="472.50" cy="709.90" rx="5.84" ry="3.99" fill="#7a2a2a" opacity="0.9"/><ellipse cx="469.58" cy="711.04" rx="2.19" ry="1.71" fill="#a04040" opacity="0.8"/>
<rect x="468.12" y="701.60" width="8.03" height="0.8" fill="#6b6b6b"/>
<rect x="480.8" y="704.2" width="13.60" height="11.40" fill="#4a2020"/><ellipse cx="487.60" cy="709.90" rx="5.44" ry="4.56" fill="#6a2a28" opacity="0.9"/>
<rect x="483.52" y="701.60" width="7.48" height="0.8" fill="#6b6b6b"/>
<rect x="465.2" y="722" width="14.60" height="13.40" fill="#1c1010"/><ellipse cx="471.77" cy="729.37" rx="5.84" ry="5.09" fill="#6a2a20" opacity="0.9"/><ellipse cx="473.23" cy="730.04" rx="1.75" ry="3.35" fill="#708a20" opacity="0.9"/>
<rect x="468.12" y="719.40" width="8.03" height="0.8" fill="#6b6b6b"/>
<rect x="480.8" y="722" width="13.60" height="13.40" fill="#141010"/><ellipse cx="487.60" cy="728.70" rx="5.71" ry="5.63" fill="#8a2820" opacity="0.95"/><ellipse cx="484.88" cy="729.37" rx="2.04" ry="4.02" fill="#38a030" opacity="0.9"/><ellipse cx="489.64" cy="726.02" rx="2.72" ry="2.01" fill="#4060c0" opacity="0.8"/>
<rect x="483.52" y="719.40" width="7.48" height="0.8" fill="#6b6b6b"/>
<rect x="493" y="680.800" width="34.700" height="39" rx="4" fill="#fcfcfc" stroke="#d8d8d8" stroke-width="0.400"/>
<rect x="494.4" y="686.5" width="15.60" height="11.00" fill="#0b0920"/><ellipse cx="502.20" cy="692.55" rx="5.46" ry="3.85" fill="#1c1440" opacity="0.9"/>
<rect x="497.52" y="683.80" width="8.58" height="0.8" fill="#6b6b6b"/>
<rect x="494.4" y="704" width="15.60" height="11.60" fill="#0b0920"/><ellipse cx="502.20" cy="710.38" rx="5.46" ry="4.06" fill="#1c1440" opacity="0.9"/><ellipse cx="502.20" cy="710.96" rx="2.34" ry="2.09" fill="#8a2848" opacity="0.8"/>
<rect x="497.52" y="701.30" width="8.58" height="0.8" fill="#6b6b6b"/>
<rect x="497.52" y="717.20" width="8.58" height="0.8" fill="#6b6b6b"/>
<rect x="511" y="686.5" width="15.70" height="11.00" fill="#0b0920"/><ellipse cx="518.85" cy="692.55" rx="5.50" ry="3.85" fill="#1c1440" opacity="0.9"/>
<rect x="514.14" y="683.80" width="8.64" height="0.8" fill="#6b6b6b"/>
<rect x="511" y="704" width="15.70" height="11.60" fill="#0b0920"/><ellipse cx="518.85" cy="710.38" rx="5.50" ry="4.06" fill="#1c1440" opacity="0.9"/><ellipse cx="518.85" cy="710.96" rx="2.36" ry="2.09" fill="#8a2848" opacity="0.8"/>
<rect x="514.14" y="701.30" width="8.64" height="0.8" fill="#6b6b6b"/>
<rect x="514.14" y="717.20" width="8.64" height="0.8" fill="#6b6b6b"/>
<rect x="526.250" y="691.700" width="51.500" height="70.300" rx="4.500" fill="#fcfcfc" stroke="#d8d8d8" stroke-width="0.400"/>
<rect x="527" y="699" width="15.30" height="13.50" fill="#5a2a30"/><ellipse cx="532.36" cy="704.40" rx="5.35" ry="4.05" fill="#8a3030" opacity="0.9"/><ellipse cx="537.71" cy="707.77" rx="4.59" ry="4.05" fill="#4a8a30" opacity="0.85"/><ellipse cx="531.59" cy="709.12" rx="3.82" ry="2.02" fill="#3050a0" opacity="0.7"/>
<rect x="530.06" y="696.00" width="8.41" height="0.8" fill="#6b6b6b"/>
<rect x="544.4" y="699" width="15.60" height="13.50" fill="#5a3a28"/><ellipse cx="552.20" cy="705.08" rx="6.24" ry="5.40" fill="#8a3a2a" opacity="0.9"/><ellipse cx="549.86" cy="706.42" rx="3.43" ry="5.40" fill="#6a9a30" opacity="0.85"/>
<rect x="547.52" y="696.00" width="8.58" height="0.8" fill="#6b6b6b"/>
<rect x="561.5" y="699" width="15.20" height="13.50" fill="#14120a"/><ellipse cx="569.10" cy="705.75" rx="6.38" ry="5.67" fill="#9a7a20" opacity="0.9"/><ellipse cx="568.34" cy="706.42" rx="3.80" ry="3.78" fill="#c03a20" opacity="0.85"/><ellipse cx="572.14" cy="707.10" rx="3.04" ry="4.05" fill="#50a030" opacity="0.85"/>
<rect x="564.54" y="696.00" width="8.36" height="0.8" fill="#6b6b6b"/>
<rect x="527" y="719.8" width="15.30" height="13.95" fill="#4a2226"/><ellipse cx="534.65" cy="726.77" rx="6.43" ry="5.86" fill="#7a3030" opacity="0.85"/><ellipse cx="534.65" cy="726.08" rx="2.29" ry="2.09" fill="#a09030" opacity="0.7"/>
<rect x="530.06" y="716.80" width="8.41" height="0.8" fill="#6b6b6b"/>
<rect x="544.4" y="719.8" width="15.60" height="13.95" fill="#5a3020"/><ellipse cx="552.20" cy="726.77" rx="6.55" ry="5.86" fill="#9a4028" opacity="0.9"/><ellipse cx="547.52" cy="728.17" rx="2.34" ry="4.19" fill="#5aa030" opacity="0.85"/>
<rect x="547.52" y="716.80" width="8.58" height="0.8" fill="#6b6b6b"/>
<rect x="561.5" y="719.8" width="15.20" height="13.95" fill="#16140e"/><ellipse cx="569.10" cy="726.77" rx="6.08" ry="5.58" fill="#6a3020" opacity="0.85"/><ellipse cx="569.10" cy="729.56" rx="6.08" ry="2.51" fill="#48a028" opacity="0.9"/>
<rect x="564.54" y="716.80" width="8.36" height="0.8" fill="#6b6b6b"/>
<rect x="527" y="741.25" width="15.30" height="13.95" fill="#4a1c18"/><ellipse cx="534.65" cy="748.23" rx="6.88" ry="5.58" fill="#8a2c20" opacity="0.9"/>
<rect x="530.06" y="738.25" width="8.41" height="0.8" fill="#6b6b6b"/>
<rect x="544.4" y="741.25" width="15.60" height="13.95" fill="#081408"/><ellipse cx="552.20" cy="748.23" rx="6.24" ry="6.28" fill="#164a18" opacity="0.95"/>
<rect x="547.52" y="738.25" width="8.58" height="0.8" fill="#6b6b6b"/>
<rect x="561.5" y="741.25" width="15.20" height="13.95" fill="#0a120e"/><ellipse cx="569.10" cy="748.23" rx="6.08" ry="4.19" fill="#10281a" opacity="0.95"/>
<rect x="564.54" y="738.25" width="8.36" height="0.8" fill="#6b6b6b"/>
<rect x="530.06" y="758.00" width="8.41" height="0.8" fill="#6b6b6b"/>
<rect x="547.52" y="758.00" width="8.58" height="0.8" fill="#6b6b6b"/>
<rect x="564.54" y="758.00" width="8.36" height="0.8" fill="#6b6b6b"/>
<rect x="491.700" y="766.700" width="62.300" height="16" fill="url(#gb)"/>
<text x="522.800" y="776.500" font-size="4.900" fill="#fff" text-anchor="middle">Images found at POI</text>
</g>
</svg>

<div class="t title">Registration workflows for the creation of INCF digital atlas hubs</div>
<div class="t auth" style="top:29.9px;"><i>J Boline<sup>1</sup></i>, Brian Avants<sup>2</sup>, Richard Baldock<sup>3</sup>, Rembrandt Bakker<sup>4</sup>, Albert Burger<sup>5</sup>, James Gee<sup>2</sup>, Christian Haselgrove<sup>6</sup>, Andreas Hess<sup>7</sup>,</div>
<div class="t auth" style="top:39.5px;">Luis Ibanez<sup>8</sup>, Stephen Larson<sup>9</sup>, Piotr Majka<sup>10</sup>, Yuko Okamura-Oho<sup>11</sup>, Seth Ruffins<sup>12</sup> and Ilya Zaslavsky<sup>13</sup></div>

<div class="abs aff" style="left:23.7px;top:57.2px;text-align:left;"><sup>1</sup>Informed Minds, Wilton Manors, FL, USA<br><sup>2</sup>University of Pennsylvania, Philadelphia, USA<br><sup>3</sup>MRC Human Genetics Unit and IGMM, UK<br><sup>4</sup>Radboud University, Netherlands and Juelich Research Institute, Germany</div>
<div class="abs aff" style="left:150px;width:300px;top:57.2px;text-align:center;"><sup>5</sup>MRC Human Genetics Unit and Heriot-Watt University, UK<br><sup>6</sup>University of Massachusetts Medical Center, USA<br><sup>7</sup>Institute of Experimental and Clinical Pharmacology and Toxicology, Germany<br><sup>8</sup>Kitware Inc., Clifton Park, USA<br><sup>9</sup>University of California, USA</div>
<div class="abs aff" style="right:23.3px;top:57.2px;text-align:right;"><sup>10</sup>Nencki Institute of Experimental Biology, Warsaw, Poland<br><sup>11</sup>Brain Research Network and RIKEN Advanced Science Institute, Wako, Japan<br><sup>12</sup> Broad CIRM Center, USC, USA<br><sup>13</sup>San Diego Supercomputer Center, University of California, USA</div>

<!-- INTRODUCTION -->
<div class="t h" style="left:321.4px;width:100px;top:97.3px;">INTRODUCTION</div>
<div class="abs body" style="left:172.2px;width:400px;top:110.9px;">
<span class="ln">The International Neuroinformatics Coordinating Facility (INCF, <b class="k u">http://incf.org</b>) Digital Atlasing Program (<b class="k">Figure 1</b>) is making</span>
<span class="ln">strides towards making multidimensional data of the rodent brain more widely accessible and usable to the research</span>
<span class="ln">community via a digital atlasing framework (Hawrylycz et al, 2011, PLoS Comput Biol 7[2]: e1001065. doi:10.1371/</span>
<span class="ln e">journal.pcbi.1001065).</span>
<span class="ln" style="margin-top:6.3px;">Our approach employs standard spatial reference systems (principally Waxholm Space, <b class="r">WHS</b>) with supporting data</span>
<span class="ln">sharing infrastructure (Digital Atlasing Infrastructure, <b class="r">DAI</b>), which consists of INCF Central, Atlas hubs, and supporting</span>
<span class="ln">applications. Current efforts are on further development of this framework with a focus on integrating image registration</span>
<span class="ln">workflows to the underlying infrastructure, which crosses into the related areas of metadata, provenance, and ontologies.</span>
</div>
<div class="t cap" style="left:32.5px;top:177.3px;">Figure 1. INCF digital atlasing program task forces</div>

<!-- WORKFLOWS -->
<div class="t h" style="left:250.8px;width:100px;top:203.8px;">WORKFLOWS</div>
<div class="abs body" style="left:29px;width:543.5px;top:218px;">
<span class="ln">Workflows are being developed around specific data sharing use cases (<b class="k">Figure 2a</b>). At this time, the use cases focus on 2D brain slice images (some sparsely, others</span>
<span class="ln">highly sampled) of various modalities. The goal is to create tools, recommendations, and standard operating procedures to aid in the registration of data to a known</span>
<span class="ln">standard atlas space (<b class="k">Figure 2b</b>) and ability to share that data through INCF atlas hubs or to create new hubs (<b class="k">Figures 2c and 3</b>). More information can be found at</span>
<span class="ln e"><b class="k" style="letter-spacing:0;font-size:6.7px;color:#3a6fae;">http://atlasing.incf.org/wiki/Workflow.</b></span>
<span class="ln e" style="margin-top:5.5px;">While the current focus is on mouse, WHS in the rat is also being developed.</span>
</div>
<div class="abs cap" style="left:33px;top:273.6px;white-space:nowrap;">Figure 2a.&nbsp; Use-case driven development of registration workflows.&nbsp; 2D images and 3D volumes share some similar<br>processing steps, including registration to a reference atlas.&nbsp; Recommendations, and the tools used can be quite<br>different depending on the data.</div>

<div class="abs cap" style="left:366.5px;top:398.2px;white-space:nowrap;line-height:6.5px;">Figure 2b. The result is registered<br>images that allow one to compare<br>their data to other registered data</div>
<div class="abs cap" style="left:438px;top:474.600px;white-space:nowrap;line-height:6.4px;">Figure 2c. The goal is to allow anyone to<br>contribute their registered data back to INCF<br>DAI via multiple methods.</div>

<!-- ATLAS HUBS AND QUERY -->
<div class="t h" style="left:249.7px;width:100px;top:524px;">ATLAS HUBS AND QUERY</div>
<div class="abs body" style="left:30.4px;width:540px;top:537.7px;">
<span class="ln">After this process, data may be shared via an existing atlas hub (<b class="k">Figure 3a</b>), or for large bodies of data, a new atlas hub may be created, such as one for ViBrism</span>
<span class="ln">(illustrated in the figure).&nbsp; These new datasets (here, a large unique microarray gene expression) will be able to be queried by WHS/DAI aware tools and compared to</span>
<span class="ln e">the data in other atlas hubs, such as EMAGE, UCSD, and Allen Brain Atlas (<b class="k">Figure 3b</b>).</span>
</div>

<div class="abs body" style="left:157px;top:628px;white-space:nowrap;line-height:6.75px;font-size:6.1px;letter-spacing:0.24px;"><i style="color:#3f74b5;">Figure 3a.</i> An atlas hub has data<br>registered to a spatial reference<br>system, publish their data and<br>services with INCF Central and share<br>their data via web services.</div>
<div class="abs body" style="left:196.2px;top:761px;white-space:nowrap;line-height:6.25px;font-size:6.1px;letter-spacing:0.3px;"><i style="color:#3f74b5;">Figure 3b.</i> Registered data can be compared to other<br>atlases, and applications using WHS/DAI can allow a user to<br>query points of interest (POI) and look at other related data</div>

<!-- CONCLUSION -->
<div class="t h" style="left:252.3px;width:100px;top:804.5px;font-size:8px;color:#3d6a90;">CONCLUSION</div>
<div class="abs conc" style="left:33px;width:538.7px;top:818.9px;">
<span class="ln">These workflows require development in multiple areas that need to be integrated with DAI, or are needed to integrate other</span>
<span class="ln">components with DAI.&nbsp; This includes work on 1) registration fiducials and landmarks, 2) standards for registration transformations, 3) data</span>
<span class="ln">management and handling, 4) metadata, 5) provenance, 6) development of &ldquo;Hub in a Box,&rdquo; and 7) PONS pan mammalian delineations</span>
<span class="ln e">of the WHS dataset.</span>
<span class="ln" style="margin-top:4.3px;">This program welcomes input from the community, and requests expert recommendations in several of the project areas outside the</span>
<span class="ln e" style="letter-spacing:0.37px;">original scope of this program.&nbsp; Please contact any of the authors for further information (<b class="k" style="text-decoration:underline;">jyiboline@gmail.com</b><i style="text-decoration:underline;">)</i></span>
</div>

<svg id="wm" width="600" height="908" viewBox="0 0 600 908" style="position:absolute;left:0;top:0;pointer-events:none;">
<g font-size="13.6" fill="#8a8a8a" opacity="0.18" style="font-family:'DejaVu Sans','Liberation Sans',sans-serif;">
<text x="-1129.8" y="1156.4" transform="rotate(-45 -1129.8 1156.4)" textLength="2501" lengthAdjust="spacing" xml:space="preserve">F1000 Posters: Use Permitted under Creative Commons License. F1000 Posters: Use Permitted under Creative Commons License. F1000 Posters: Use Permitted under Creative Commons License. F1000 Posters: Use Permitted under Creative Commons License. F1000 Posters: Use Permitted under Creative Commons License. </text>
<text x="-1047.8" y="1241.9" transform="rotate(-45 -1047.8 1241.9)" textLength="2501" lengthAdjust="spacing" xml:space="preserve">F1000 Posters: Use Permitted under Creative Commons License. F1000 Posters: Use Permitted under Creative Commons License. F1000 Posters: Use Permitted under Creative Commons License. F1000 Posters: Use Permitted under Creative Commons License. F1000 Posters: Use Permitted under Creative Commons License. </text>
<text x="-969.8" y="1331.4" transform="rotate(-45 -969.8 1331.4)" textLength="2501" lengthAdjust="spacing" xml:space="preserve">F1000 Posters: Use Permitted under Creative Commons License. F1000 Posters: Use Permitted under Creative Commons License. F1000 Posters: Use Permitted under Creative Commons License. F1000 Posters: Use Permitted under Creative Commons License. F1000 Posters: Use Permitted under Creative Commons License. </text>
<text x="-890.8" y="1419.9" transform="rotate(-45 -890.8 1419.9)" textLength="2501" lengthAdjust="spacing" xml:space="preserve">F1000 Posters: Use Permitted under Creative Commons License. F1000 Posters: Use Permitted under Creative Commons License. F1000 Posters: Use Permitted under Creative Commons License. F1000 Posters: Use Permitted under Creative Commons License. F1000 Posters: Use Permitted under Creative Commons License. </text>
<text x="-812.3" y="1508.9" transform="rotate(-45 -812.3 1508.9)" textLength="2501" lengthAdjust="spacing" xml:space="preserve">F1000 Posters: Use Permitted under Creative Commons License. F1000 Posters: Use Permitted under Creative Commons License. F1000 Posters: Use Permitted under Creative Commons License. F1000 Posters: Use Permitted under Creative Commons License. F1000 Posters: Use Permitted under Creative Commons License. </text>
<text x="-727.8" y="1591.9" transform="rotate(-45 -727.8 1591.9)" textLength="2501" lengthAdjust="spacing" xml:space="preserve">F1000 Posters: Use Permitted under Creative Commons License. F1000 Posters: Use Permitted under Creative Commons License. F1000 Posters: Use Permitted under Creative Commons License. F1000 Posters: Use Permitted under Creative Commons License. F1000 Posters: Use Permitted under Creative Commons License. </text>
<text x="-643.8" y="1675.4" transform="rotate(-45 -643.8 1675.4)" textLength="2501" lengthAdjust="spacing" xml:space="preserve">F1000 Posters: Use Permitted under Creative Commons License. F1000 Posters: Use Permitted under Creative Commons License. F1000 Posters: Use Permitted under Creative Commons License. F1000 Posters: Use Permitted under Creative Commons License. F1000 Posters: Use Permitted under Creative Commons License. </text>
<text x="-559.8" y="1758.9" transform="rotate(-45 -559.8 1758.9)" textLength="2501" lengthAdjust="spacing" xml:space="preserve">F1000 Posters: Use Permitted under Creative Commons License. F1000 Posters: Use Permitted under Creative Commons License. F1000 Posters: Use Permitted under Creative Commons License. F1000 Posters: Use Permitted under Creative Commons License. F1000 Posters: Use Permitted under Creative Commons License. </text>
<text x="-476.8" y="1843.4" transform="rotate(-45 -476.8 1843.4)" textLength="2501" lengthAdjust="spacing" xml:space="preserve">F1000 Posters: Use Permitted under Creative Commons License. F1000 Posters: Use Permitted under Creative Commons License. F1000 Posters: Use Permitted under Creative Commons License. F1000 Posters: Use Permitted under Creative Commons License. F1000 Posters: Use Permitted under Creative Commons License. </text>
<text x="-393.8" y="1927.9" transform="rotate(-45 -393.8 1927.9)" textLength="2501" lengthAdjust="spacing" xml:space="preserve">F1000 Posters: Use Permitted under Creative Commons License. F1000 Posters: Use Permitted under Creative Commons License. F1000 Posters: Use Permitted under Creative Commons License. F1000 Posters: Use Permitted under Creative Commons License. F1000 Posters: Use Permitted under Creative Commons License. </text>
</g></svg>
</div>
</body>
</html>
